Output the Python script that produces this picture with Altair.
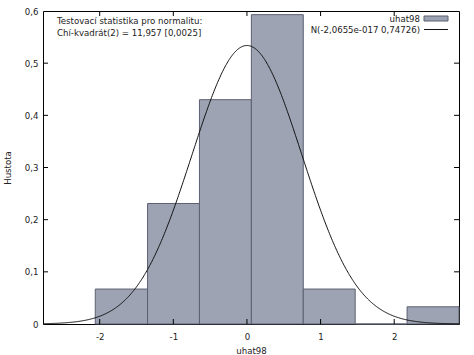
import altair as alt
import pandas as pd

# ---- data ----
bin_start = [-2.06, -1.35, -0.645, 0.06, 0.765, 1.47, 2.175]
bin_end = [-1.35, -0.645, 0.06, 0.765, 1.47, 2.175, 2.88]
density = [0.067, 0.231, 0.43, 0.593, 0.067, 0.0, 0.033]

mu = -2.0655e-17
sd = 0.74726

x_ticks = [-2, -1, 0, 1, 2]
y_ticks = [0.1, 0.2, 0.3, 0.4, 0.5]
x_min, x_max = -2.77, 2.88

test_lines = ["Testovací statistika pro normalitu:", "Chí-kvadrát(2) = 11,957 [0,0025]"]
legend_labels = ["uhat98", "N(-2,0655e-017 0,74726)"]

W, H = 416, 313
FONT = "DejaVu Sans"
FS = 8.6
BAR_FILL = "#9da3b3"
BAR_STROKE = "#5c6070"

bars_df = pd.DataFrame({"start": bin_start, "end": bin_end, "density": density})

xscale = alt.Scale(domain=[x_min, x_max], nice=False, zero=False)
yscale = alt.Scale(domain=[0, 0.6], nice=False)

xaxis = alt.Axis(values=x_ticks, labelExpr="'' + datum.value", tickSize=0, domain=False,
                 grid=False, labelPadding=8, titlePadding=6, labelFont=FONT, titleFont=FONT,
                 labelFontSize=FS, titleFontSize=FS, titleFontWeight="normal",
                 labelColor="#222", titleColor="#222")
yaxis = alt.Axis(values=[0, 0.1, 0.2, 0.3, 0.4, 0.5, 0.6],
                 labelExpr="datum.value == 0 ? '0' : replace(format(datum.value, '.1f'), '.', ',')",
                 tickSize=0, domain=False, grid=False, labelPadding=5, titlePadding=12,
                 labelFont=FONT, titleFont=FONT, labelFontSize=FS, titleFontSize=FS,
                 titleFontWeight="normal", labelColor="#222", titleColor="#222")

bars = alt.Chart(bars_df).mark_rect(fill=BAR_FILL, stroke=BAR_STROKE, strokeWidth=1).encode(
    x=alt.X("start:Q", scale=xscale, axis=xaxis, title="uhat98"),
    x2="end:Q",
    y=alt.Y("density:Q", scale=yscale, axis=yaxis, title="Hustota"),
    y2=alt.datum(0),
)

curve = alt.Chart(alt.sequence(x_min, x_max + 0.001, 0.01, as_="x")).transform_calculate(
    d=f"exp(-pow(datum.x - ({mu}), 2) / (2 * {sd} * {sd})) / ({sd} * sqrt(2 * PI))"
).mark_line(color="#111", strokeWidth=1).encode(
    x=alt.X("x:Q", scale=xscale),
    y=alt.Y("d:Q", scale=yscale),
)

xt = pd.DataFrame({"v": x_ticks})
yt = pd.DataFrame({"v": y_ticks})
tick_style = dict(color="#000", strokeWidth=1)
ticks_bottom = alt.Chart(xt).mark_rule(**tick_style).encode(
    x=alt.X("v:Q", scale=xscale), y=alt.value(H), y2=alt.value(H - 5))
ticks_top = alt.Chart(xt).mark_rule(**tick_style).encode(
    x=alt.X("v:Q", scale=xscale), y=alt.value(0), y2=alt.value(5))
ticks_left = alt.Chart(yt).mark_rule(**tick_style).encode(
    y=alt.Y("v:Q", scale=yscale), x=alt.value(0), x2=alt.value(5))
ticks_right = alt.Chart(yt).mark_rule(**tick_style).encode(
    y=alt.Y("v:Q", scale=yscale), x=alt.value(W), x2=alt.value(W - 5))

text_style = dict(baseline="middle", font=FONT, fontSize=FS, color="#222")
test_text0 = alt.Chart(pd.DataFrame({"t": [test_lines[0]]})).mark_text(
    align="left", **text_style).encode(text="t:N", x=alt.value(14), y=alt.value(10))
test_text1 = alt.Chart(pd.DataFrame({"t": [test_lines[1]]})).mark_text(
    align="left", **text_style).encode(text="t:N", x=alt.value(14), y=alt.value(22))

leg0 = alt.Chart(pd.DataFrame({"t": [legend_labels[0]]})).mark_text(
    align="right", **text_style).encode(text="t:N", x=alt.value(377), y=alt.value(7.5))
leg1 = alt.Chart(pd.DataFrame({"t": [legend_labels[1]]})).mark_text(
    align="right", **text_style).encode(text="t:N", x=alt.value(377), y=alt.value(18.5))
leg_swatch = alt.Chart(pd.DataFrame({"a": [1]})).mark_rect(
    fill=BAR_FILL, stroke=BAR_STROKE, strokeWidth=1).encode(
    x=alt.value(381), x2=alt.value(405), y=alt.value(5), y2=alt.value(10))
leg_line = alt.Chart(pd.DataFrame({"a": [1]})).mark_rule(color="#111", strokeWidth=1).encode(
    x=alt.value(381), x2=alt.value(405), y=alt.value(18.5))

chart = alt.layer(
    bars, curve, ticks_bottom, ticks_top, ticks_left, ticks_right,
    test_text0, test_text1, leg0, leg1, leg_swatch, leg_line,
).properties(
    width=W, height=H,
    autosize=alt.AutoSizeParams(type="none"),
    padding={"left": 43, "top": 11, "right": 15, "bottom": 31},
    background="white",
).configure_view(stroke="#000", strokeWidth=1)

chart.save("out.html", embed_options={"renderer": "svg", "actions": False})
